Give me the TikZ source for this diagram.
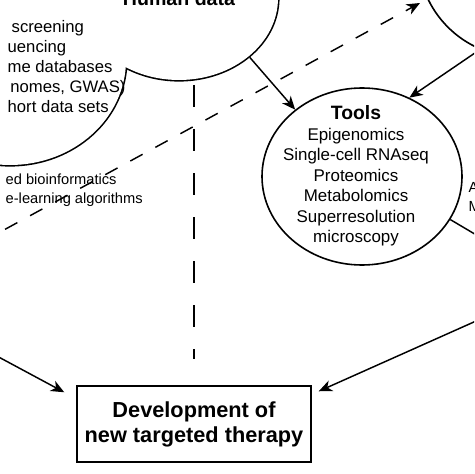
\documentclass[tikz,border=0pt]{standalone}
\usepackage{fontspec}
\setmainfont{Liberation Sans}
\usetikzlibrary{shapes.geometric,arrows.meta}
\tikzset{
  blob/.style={ellipse,draw,line width=2.4pt,inner sep=0pt},
  ring/.style={ellipse,draw,line width=1.2pt,inner sep=0pt},
  arr/.style={line width=1.1pt,-{Stealth[length=10pt,width=8.5pt,inset=3pt]}},
  dashes/.style={line width=1.1pt,dash pattern=on 10.5pt off 10.9pt},
  title/.style={font=\fontsize{14.7}{17}\selectfont\bfseries},
  bigtxt/.style={font=\fontsize{12.5}{15}\selectfont,align=left},
  smalltxt/.style={font=\fontsize{11}{14.25}\selectfont,align=left},
}
\begin{document}
\begin{tikzpicture}[x=0.75pt,y=-0.75pt]
\useasboundingbox (0,0) rectangle (474,474);
\clip (0,0) rectangle (474,474);

\node[blob,minimum width=174pt,minimum height=157.5pt] (screening) at (10,60) {};
\node[blob,minimum width=148.5pt,minimum height=123pt] (human) at (179,-2) {};
\fill[white] (screening.center) ellipse [x radius=116,y radius=105]
  (human.center) ellipse [x radius=99,y radius=82];
\node[ring,minimum width=153pt,minimum height=153pt] (models) at (520,-45) {};
\node[ring,minimum width=150pt,minimum height=132.75pt] (tools) at (362,176.5) {};
\node[draw,line width=1.1pt,minimum width=175.5pt,minimum height=57pt,align=center,
  font=\fontsize{16.3}{18.75}\selectfont\bfseries] (therapy) at (194,424)
  {Development of\\new targeted therapy};

\node[title] (humantext) at (human.center) {Human data};
\node[bigtxt,anchor=base west] (screentext) at (3,113)
  {\hspace*{3pt}screening\\uencing\\me databases\\\hspace*{2pt}nomes, GWAS)\\hort data sets};
\node[font=\fontsize{12.7}{15.4}\selectfont,align=center] (toolstext) at (356,176)
  {{\fontsize{14.5}{15.4}\selectfont\bfseries Tools}\\Epigenomics\\Single-cell RNAseq\\
   Proteomics\\Metabolomics\\Superresolution\\microscopy};
\node[smalltxt,anchor=base west] (mltext) at (1,203) {ed bioinformatics\\e-learning algorithms};
\node[smalltxt,anchor=base west] (rightlabel) at (464,211) {A\\M};

\coordinate (dashin) at (-20,243);
\coordinate (dashout) at (420,3);
\coordinate (leftin) at (-20,347);
\coordinate (rightin) at (494,313);
\coordinate (rightout) at (500,249);

\draw[arr] (human.320) -- (tools.135);
\draw[arr] (models.247) -- (tools.59);
\draw[line width=1.1pt] (tools.334) -- (rightout);
\draw[arr] (leftin) -- ([xshift=-9pt,yshift=-5.25pt]therapy.north west);
\draw[arr] (rightin) -- ([xshift=5.25pt,yshift=-4.5pt]therapy.north east);
\draw[dashes,-{Stealth[length=10pt,width=8.5pt,inset=3pt]}] (dashin) -- (dashout);
\draw[line width=1.1pt,dash pattern=on 16.5pt off 16.5pt,dash phase=30.45pt,shorten >=19.5pt]
  (therapy.north |- human.south) -- (therapy.north);
\end{tikzpicture}
\end{document}
